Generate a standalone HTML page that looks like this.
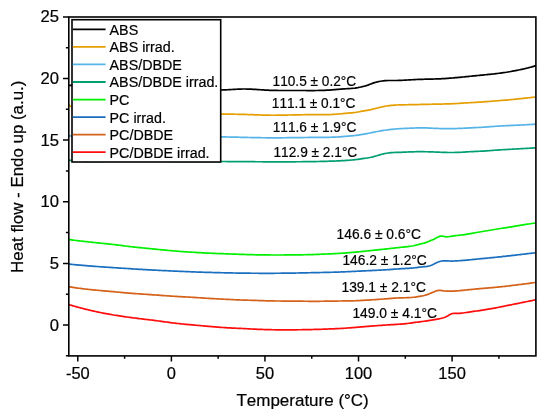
<!DOCTYPE html>
<html><head><meta charset="utf-8"><title>DSC</title>
<style>
html,body{margin:0;padding:0;background:#fff;}
body{width:550px;height:418px;overflow:hidden;}
svg{display:block;font-family:"Liberation Sans",sans-serif;}
text{stroke:#000;stroke-width:0.2px;font-kerning:none;font-feature-settings:"kern" 0;}
</style></head><body>
<svg width="550" height="418" viewBox="0 0 550 418">
<rect x="0" y="0" width="550" height="418" fill="#fff"/>
<g fill="none" stroke-width="1.7" stroke-linejoin="round" stroke-linecap="butt">
<path stroke="#000000" d="M68.5,85.30L70.0,85.34L71.5,85.38L73.0,85.44L74.5,85.51L76.0,85.58L77.5,85.66L79.0,85.75L80.5,85.85L82.0,85.95L83.5,86.06L85.0,86.17L86.5,86.28L88.0,86.39L89.5,86.51L91.0,86.63L92.5,86.74L94.0,86.86L95.5,86.97L97.0,87.09L98.5,87.20L100.0,87.30L101.5,87.40L103.0,87.50L104.5,87.59L106.0,87.67L107.5,87.75L109.0,87.83L110.5,87.90L112.0,87.97L113.5,88.04L115.0,88.10L116.5,88.16L118.0,88.22L119.5,88.27L121.0,88.32L122.5,88.37L124.0,88.41L125.5,88.45L127.0,88.49L128.5,88.53L130.0,88.56L131.5,88.60L133.0,88.63L134.5,88.66L136.0,88.69L137.5,88.71L139.0,88.74L140.5,88.76L142.0,88.79L143.5,88.81L145.0,88.83L146.5,88.85L148.0,88.87L149.5,88.89L151.0,88.91L152.5,88.93L154.0,88.96L155.5,88.98L157.0,89.00L158.5,89.02L160.0,89.04L161.5,89.06L163.0,89.08L164.5,89.11L166.0,89.13L167.5,89.15L169.0,89.17L170.5,89.20L172.0,89.22L173.5,89.25L175.0,89.27L176.5,89.30L178.0,89.32L179.5,89.35L181.0,89.38L182.5,89.41L184.0,89.44L185.5,89.47L187.0,89.50L188.5,89.53L190.0,89.56L191.5,89.59L193.0,89.63L194.5,89.66L196.0,89.70L197.5,89.74L199.0,89.77L200.5,89.81L202.0,89.85L203.5,89.89L205.0,89.93L206.5,89.97L208.0,90.00L209.5,90.03L211.0,90.06L212.5,90.08L214.0,90.09L215.5,90.09L217.0,90.09L218.5,90.08L220.0,90.05L221.5,90.01L223.0,89.97L224.5,89.91L226.0,89.84L227.5,89.76L229.0,89.68L230.5,89.59L232.0,89.50L233.5,89.41L235.0,89.32L236.5,89.24L238.0,89.17L239.5,89.11L241.0,89.06L242.5,89.02L244.0,89.00L245.5,89.00L247.0,89.03L248.5,89.07L250.0,89.12L251.5,89.20L253.0,89.28L254.5,89.37L256.0,89.47L257.5,89.57L259.0,89.67L260.5,89.77L262.0,89.87L263.5,89.96L265.0,90.05L266.5,90.14L268.0,90.21L269.5,90.28L271.0,90.34L272.5,90.38L274.0,90.42L275.5,90.45L277.0,90.47L278.5,90.48L280.0,90.49L281.5,90.50L283.0,90.50L284.5,90.50L286.0,90.51L287.5,90.50L289.0,90.50L290.5,90.50L292.0,90.50L293.5,90.50L295.0,90.50L296.5,90.50L298.0,90.50L299.5,90.50L301.0,90.50L302.5,90.51L304.0,90.52L305.5,90.52L307.0,90.53L308.5,90.53L310.0,90.54L311.5,90.54L313.0,90.53L314.5,90.53L316.0,90.51L317.5,90.49L319.0,90.47L320.5,90.43L322.0,90.39L323.5,90.34L325.0,90.28L326.5,90.21L328.0,90.13L329.5,90.03L331.0,89.93L332.5,89.81L334.0,89.68L335.5,89.55L337.0,89.42L338.5,89.29L340.0,89.16L341.5,89.04L343.0,88.93L344.5,88.83L346.0,88.75L347.5,88.67L349.0,88.60L350.5,88.51L352.0,88.40L353.5,88.26L355.0,88.07L356.5,87.84L358.0,87.58L359.5,87.28L361.0,86.96L362.5,86.62L364.0,86.26L365.5,85.88L367.0,85.44L368.5,84.91L370.0,84.31L371.5,83.71L373.0,83.15L374.5,82.67L376.0,82.25L377.5,81.88L379.0,81.54L380.5,81.25L382.0,81.01L383.5,80.82L385.0,80.67L386.5,80.57L388.0,80.52L389.5,80.49L391.0,80.49L392.5,80.49L394.0,80.50L395.5,80.50L397.0,80.48L398.5,80.45L400.0,80.40L401.5,80.34L403.0,80.27L404.5,80.19L406.0,80.10L407.5,80.01L409.0,79.92L410.5,79.83L412.0,79.74L413.5,79.66L415.0,79.58L416.5,79.51L418.0,79.44L419.5,79.38L421.0,79.33L422.5,79.28L424.0,79.24L425.5,79.20L427.0,79.17L428.5,79.14L430.0,79.11L431.5,79.08L433.0,79.04L434.5,79.01L436.0,78.97L437.5,78.92L439.0,78.86L440.5,78.79L442.0,78.72L443.5,78.63L445.0,78.54L446.5,78.44L448.0,78.33L449.5,78.22L451.0,78.10L452.5,77.98L454.0,77.85L455.5,77.71L457.0,77.58L458.5,77.44L460.0,77.29L461.5,77.15L463.0,77.00L464.5,76.85L466.0,76.70L467.5,76.55L469.0,76.40L470.5,76.25L472.0,76.10L473.5,75.95L475.0,75.80L476.5,75.65L478.0,75.50L479.5,75.35L481.0,75.20L482.5,75.05L484.0,74.90L485.5,74.75L487.0,74.60L488.5,74.45L490.0,74.30L491.5,74.14L493.0,73.98L494.5,73.81L496.0,73.64L497.5,73.47L499.0,73.28L500.5,73.09L502.0,72.89L503.5,72.69L505.0,72.47L506.5,72.24L508.0,72.00L509.5,71.75L511.0,71.49L512.5,71.21L514.0,70.93L515.5,70.64L517.0,70.34L518.5,70.03L520.0,69.71L521.5,69.39L523.0,69.07L524.5,68.73L526.0,68.38L527.5,68.02L529.0,67.65L530.5,67.25L532.0,66.83L533.5,66.39L535.0,65.93L536.0,65.60"/>
<path stroke="#E69F00" d="M68.5,104.70L70.0,105.85L71.5,106.79L73.0,107.55L74.5,108.15L76.0,108.62L77.5,109.00L79.0,109.32L80.5,109.59L82.0,109.84L83.5,110.08L85.0,110.29L86.5,110.50L88.0,110.68L89.5,110.85L91.0,111.01L92.5,111.15L94.0,111.28L95.5,111.40L97.0,111.50L98.5,111.60L100.0,111.69L101.5,111.77L103.0,111.84L104.5,111.90L106.0,111.95L107.5,112.00L109.0,112.05L110.5,112.09L112.0,112.13L113.5,112.16L115.0,112.20L116.5,112.23L118.0,112.26L119.5,112.29L121.0,112.32L122.5,112.36L124.0,112.39L125.5,112.43L127.0,112.46L128.5,112.50L130.0,112.54L131.5,112.58L133.0,112.62L134.5,112.66L136.0,112.70L137.5,112.75L139.0,112.79L140.5,112.83L142.0,112.87L143.5,112.92L145.0,112.96L146.5,113.00L148.0,113.05L149.5,113.09L151.0,113.13L152.5,113.17L154.0,113.21L155.5,113.25L157.0,113.29L158.5,113.33L160.0,113.37L161.5,113.41L163.0,113.45L164.5,113.48L166.0,113.52L167.5,113.55L169.0,113.58L170.5,113.61L172.0,113.64L173.5,113.67L175.0,113.69L176.5,113.72L178.0,113.74L179.5,113.76L181.0,113.78L182.5,113.80L184.0,113.82L185.5,113.84L187.0,113.85L188.5,113.87L190.0,113.88L191.5,113.90L193.0,113.91L194.5,113.92L196.0,113.94L197.5,113.95L199.0,113.96L200.5,113.97L202.0,113.98L203.5,113.99L205.0,114.00L206.5,114.01L208.0,114.02L209.5,114.02L211.0,114.03L212.5,114.04L214.0,114.05L215.5,114.06L217.0,114.07L218.5,114.08L220.0,114.09L221.5,114.10L223.0,114.11L224.5,114.12L226.0,114.13L227.5,114.14L229.0,114.16L230.5,114.17L232.0,114.19L233.5,114.21L235.0,114.23L236.5,114.25L238.0,114.28L239.5,114.31L241.0,114.34L242.5,114.37L244.0,114.41L245.5,114.45L247.0,114.50L248.5,114.55L250.0,114.60L251.5,114.66L253.0,114.72L254.5,114.78L256.0,114.84L257.5,114.89L259.0,114.95L260.5,115.00L262.0,115.05L263.5,115.10L265.0,115.14L266.5,115.17L268.0,115.20L269.5,115.22L271.0,115.23L272.5,115.24L274.0,115.24L275.5,115.23L277.0,115.22L278.5,115.20L280.0,115.18L281.5,115.16L283.0,115.14L284.5,115.11L286.0,115.08L287.5,115.05L289.0,115.02L290.5,114.99L292.0,114.96L293.5,114.93L295.0,114.90L296.5,114.87L298.0,114.84L299.5,114.81L301.0,114.78L302.5,114.75L304.0,114.73L305.5,114.70L307.0,114.68L308.5,114.66L310.0,114.64L311.5,114.63L313.0,114.62L314.5,114.61L316.0,114.60L317.5,114.60L319.0,114.60L320.5,114.60L322.0,114.61L323.5,114.61L325.0,114.61L326.5,114.60L328.0,114.58L329.5,114.55L331.0,114.50L332.5,114.44L334.0,114.36L335.5,114.26L337.0,114.15L338.5,114.01L340.0,113.87L341.5,113.73L343.0,113.58L344.5,113.44L346.0,113.32L347.5,113.20L349.0,113.09L350.5,112.96L352.0,112.82L353.5,112.66L355.0,112.47L356.5,112.24L358.0,112.00L359.5,111.74L361.0,111.46L362.5,111.19L364.0,110.92L365.5,110.65L367.0,110.38L368.5,110.10L370.0,109.80L371.5,109.48L373.0,109.13L374.5,108.76L376.0,108.37L377.5,107.97L379.0,107.58L380.5,107.21L382.0,106.87L383.5,106.55L385.0,106.28L386.5,106.03L388.0,105.81L389.5,105.61L391.0,105.45L392.5,105.30L394.0,105.18L395.5,105.08L397.0,105.00L398.5,104.93L400.0,104.88L401.5,104.84L403.0,104.80L404.5,104.78L406.0,104.75L407.5,104.73L409.0,104.71L410.5,104.69L412.0,104.67L413.5,104.64L415.0,104.61L416.5,104.57L418.0,104.54L419.5,104.50L421.0,104.47L422.5,104.43L424.0,104.40L425.5,104.37L427.0,104.33L428.5,104.30L430.0,104.27L431.5,104.24L433.0,104.21L434.5,104.19L436.0,104.16L437.5,104.13L439.0,104.10L440.5,104.07L442.0,104.04L443.5,104.01L445.0,103.97L446.5,103.93L448.0,103.89L449.5,103.84L451.0,103.78L452.5,103.72L454.0,103.65L455.5,103.57L457.0,103.49L458.5,103.40L460.0,103.31L461.5,103.21L463.0,103.12L464.5,103.02L466.0,102.92L467.5,102.83L469.0,102.74L470.5,102.65L472.0,102.57L473.5,102.48L475.0,102.40L476.5,102.31L478.0,102.22L479.5,102.13L481.0,102.04L482.5,101.93L484.0,101.83L485.5,101.72L487.0,101.60L488.5,101.48L490.0,101.35L491.5,101.23L493.0,101.10L494.5,100.98L496.0,100.86L497.5,100.74L499.0,100.62L500.5,100.51L502.0,100.39L503.5,100.27L505.0,100.15L506.5,100.03L508.0,99.90L509.5,99.77L511.0,99.63L512.5,99.48L514.0,99.33L515.5,99.18L517.0,99.03L518.5,98.87L520.0,98.71L521.5,98.55L523.0,98.38L524.5,98.22L526.0,98.06L527.5,97.89L529.0,97.73L530.5,97.57L532.0,97.41L533.5,97.25L535.0,97.10L536.0,97.00"/>
<path stroke="#56B4E9" d="M68.5,135.60L70.0,135.85L71.5,136.07L73.0,136.28L74.5,136.46L76.0,136.62L77.5,136.77L79.0,136.89L80.5,137.00L82.0,137.10L83.5,137.17L85.0,137.24L86.5,137.29L88.0,137.32L89.5,137.34L91.0,137.36L92.5,137.36L94.0,137.35L95.5,137.33L97.0,137.31L98.5,137.27L100.0,137.24L101.5,137.19L103.0,137.14L104.5,137.09L106.0,137.03L107.5,136.97L109.0,136.91L110.5,136.85L112.0,136.79L113.5,136.73L115.0,136.67L116.5,136.61L118.0,136.56L119.5,136.51L121.0,136.47L122.5,136.43L124.0,136.40L125.5,136.38L127.0,136.35L128.5,136.33L130.0,136.32L131.5,136.31L133.0,136.30L134.5,136.30L136.0,136.30L137.5,136.30L139.0,136.31L140.5,136.32L142.0,136.33L143.5,136.34L145.0,136.36L146.5,136.37L148.0,136.39L149.5,136.41L151.0,136.43L152.5,136.46L154.0,136.48L155.5,136.50L157.0,136.52L158.5,136.55L160.0,136.57L161.5,136.59L163.0,136.61L164.5,136.64L166.0,136.65L167.5,136.67L169.0,136.69L170.5,136.70L172.0,136.72L173.5,136.73L175.0,136.74L176.5,136.75L178.0,136.75L179.5,136.76L181.0,136.76L182.5,136.77L184.0,136.77L185.5,136.77L187.0,136.77L188.5,136.77L190.0,136.77L191.5,136.77L193.0,136.77L194.5,136.77L196.0,136.77L197.5,136.77L199.0,136.77L200.5,136.77L202.0,136.77L203.5,136.77L205.0,136.78L206.5,136.78L208.0,136.78L209.5,136.79L211.0,136.80L212.5,136.81L214.0,136.82L215.5,136.83L217.0,136.84L218.5,136.86L220.0,136.87L221.5,136.89L223.0,136.91L224.5,136.94L226.0,136.96L227.5,136.99L229.0,137.02L230.5,137.05L232.0,137.09L233.5,137.12L235.0,137.15L236.5,137.19L238.0,137.22L239.5,137.26L241.0,137.30L242.5,137.33L244.0,137.37L245.5,137.41L247.0,137.44L248.5,137.48L250.0,137.51L251.5,137.55L253.0,137.58L254.5,137.61L256.0,137.64L257.5,137.67L259.0,137.69L260.5,137.72L262.0,137.74L263.5,137.76L265.0,137.77L266.5,137.79L268.0,137.80L269.5,137.81L271.0,137.81L272.5,137.82L274.0,137.82L275.5,137.81L277.0,137.81L278.5,137.80L280.0,137.79L281.5,137.78L283.0,137.77L284.5,137.76L286.0,137.74L287.5,137.72L289.0,137.71L290.5,137.69L292.0,137.67L293.5,137.65L295.0,137.63L296.5,137.61L298.0,137.59L299.5,137.57L301.0,137.55L302.5,137.53L304.0,137.51L305.5,137.50L307.0,137.48L308.5,137.46L310.0,137.45L311.5,137.44L313.0,137.43L314.5,137.42L316.0,137.41L317.5,137.40L319.0,137.40L320.5,137.40L322.0,137.39L323.5,137.39L325.0,137.38L326.5,137.36L328.0,137.34L329.5,137.31L331.0,137.27L332.5,137.22L334.0,137.15L335.5,137.08L337.0,136.99L338.5,136.89L340.0,136.78L341.5,136.67L343.0,136.56L344.5,136.44L346.0,136.32L347.5,136.20L349.0,136.08L350.5,135.95L352.0,135.81L353.5,135.65L355.0,135.48L356.5,135.30L358.0,135.09L359.5,134.87L361.0,134.64L362.5,134.39L364.0,134.12L365.5,133.84L367.0,133.55L368.5,133.26L370.0,132.96L371.5,132.66L373.0,132.36L374.5,132.07L376.0,131.78L377.5,131.49L379.0,131.22L380.5,130.95L382.0,130.70L383.5,130.46L385.0,130.23L386.5,130.01L388.0,129.81L389.5,129.62L391.0,129.44L392.5,129.28L394.0,129.13L395.5,129.00L397.0,128.87L398.5,128.76L400.0,128.67L401.5,128.58L403.0,128.50L404.5,128.43L406.0,128.36L407.5,128.30L409.0,128.24L410.5,128.18L412.0,128.12L413.5,128.07L415.0,128.02L416.5,127.97L418.0,127.93L419.5,127.91L421.0,127.89L422.5,127.89L424.0,127.90L425.5,127.93L427.0,127.97L428.5,128.03L430.0,128.09L431.5,128.16L433.0,128.23L434.5,128.30L436.0,128.37L437.5,128.44L439.0,128.50L440.5,128.55L442.0,128.59L443.5,128.62L445.0,128.64L446.5,128.65L448.0,128.65L449.5,128.65L451.0,128.63L452.5,128.61L454.0,128.58L455.5,128.54L457.0,128.49L458.5,128.44L460.0,128.38L461.5,128.32L463.0,128.25L464.5,128.18L466.0,128.11L467.5,128.03L469.0,127.96L470.5,127.88L472.0,127.80L473.5,127.72L475.0,127.65L476.5,127.57L478.0,127.49L479.5,127.41L481.0,127.32L482.5,127.23L484.0,127.13L485.5,127.03L487.0,126.92L488.5,126.81L490.0,126.70L491.5,126.59L493.0,126.48L494.5,126.37L496.0,126.27L497.5,126.17L499.0,126.08L500.5,125.99L502.0,125.90L503.5,125.82L505.0,125.75L506.5,125.67L508.0,125.60L509.5,125.53L511.0,125.46L512.5,125.39L514.0,125.32L515.5,125.26L517.0,125.19L518.5,125.12L520.0,125.05L521.5,124.98L523.0,124.90L524.5,124.82L526.0,124.74L527.5,124.66L529.0,124.57L530.5,124.48L532.0,124.38L533.5,124.28L535.0,124.18L536.0,124.10"/>
<path stroke="#009E73" d="M68.5,160.10L70.0,160.29L71.5,160.45L73.0,160.61L74.5,160.75L76.0,160.87L77.5,160.98L79.0,161.08L80.5,161.16L82.0,161.23L83.5,161.29L85.0,161.34L86.5,161.38L88.0,161.41L89.5,161.43L91.0,161.44L92.5,161.45L94.0,161.45L95.5,161.44L97.0,161.42L98.5,161.40L100.0,161.38L101.5,161.35L103.0,161.31L104.5,161.28L106.0,161.24L107.5,161.20L109.0,161.16L110.5,161.12L112.0,161.08L113.5,161.04L115.0,161.01L116.5,160.97L118.0,160.94L119.5,160.91L121.0,160.88L122.5,160.86L124.0,160.84L125.5,160.83L127.0,160.82L128.5,160.81L130.0,160.81L131.5,160.81L133.0,160.81L134.5,160.82L136.0,160.82L137.5,160.83L139.0,160.85L140.5,160.86L142.0,160.88L143.5,160.89L145.0,160.91L146.5,160.93L148.0,160.96L149.5,160.98L151.0,161.00L152.5,161.03L154.0,161.05L155.5,161.08L157.0,161.10L158.5,161.13L160.0,161.15L161.5,161.18L163.0,161.20L164.5,161.22L166.0,161.25L167.5,161.27L169.0,161.29L170.5,161.31L172.0,161.32L173.5,161.34L175.0,161.35L176.5,161.37L178.0,161.38L179.5,161.39L181.0,161.40L182.5,161.41L184.0,161.42L185.5,161.43L187.0,161.43L188.5,161.44L190.0,161.44L191.5,161.45L193.0,161.45L194.5,161.45L196.0,161.46L197.5,161.46L199.0,161.46L200.5,161.46L202.0,161.46L203.5,161.47L205.0,161.47L206.5,161.47L208.0,161.47L209.5,161.47L211.0,161.47L212.5,161.48L214.0,161.48L215.5,161.48L217.0,161.48L218.5,161.49L220.0,161.49L221.5,161.50L223.0,161.50L224.5,161.51L226.0,161.52L227.5,161.53L229.0,161.53L230.5,161.54L232.0,161.55L233.5,161.56L235.0,161.57L236.5,161.58L238.0,161.59L239.5,161.61L241.0,161.62L242.5,161.63L244.0,161.64L245.5,161.65L247.0,161.66L248.5,161.68L250.0,161.69L251.5,161.70L253.0,161.71L254.5,161.72L256.0,161.73L257.5,161.74L259.0,161.75L260.5,161.76L262.0,161.77L263.5,161.78L265.0,161.79L266.5,161.79L268.0,161.80L269.5,161.81L271.0,161.81L272.5,161.82L274.0,161.82L275.5,161.82L277.0,161.82L278.5,161.83L280.0,161.83L281.5,161.83L283.0,161.82L284.5,161.82L286.0,161.82L287.5,161.81L289.0,161.81L290.5,161.80L292.0,161.80L293.5,161.79L295.0,161.78L296.5,161.77L298.0,161.76L299.5,161.75L301.0,161.73L302.5,161.72L304.0,161.70L305.5,161.69L307.0,161.67L308.5,161.65L310.0,161.63L311.5,161.61L313.0,161.58L314.5,161.56L316.0,161.54L317.5,161.51L319.0,161.48L320.5,161.45L322.0,161.42L323.5,161.39L325.0,161.35L326.5,161.31L328.0,161.27L329.5,161.22L331.0,161.17L332.5,161.12L334.0,161.06L335.5,161.00L337.0,160.93L338.5,160.86L340.0,160.78L341.5,160.70L343.0,160.62L344.5,160.53L346.0,160.44L347.5,160.34L349.0,160.24L350.5,160.13L352.0,160.00L353.5,159.85L355.0,159.69L356.5,159.50L358.0,159.31L359.5,159.10L361.0,158.89L362.5,158.67L364.0,158.46L365.5,158.24L367.0,158.02L368.5,157.77L370.0,157.50L371.5,157.19L373.0,156.83L374.5,156.42L376.0,155.99L377.5,155.54L379.0,155.09L380.5,154.65L382.0,154.24L383.5,153.87L385.0,153.53L386.5,153.24L388.0,153.00L389.5,152.80L391.0,152.66L392.5,152.56L394.0,152.50L395.5,152.46L397.0,152.42L398.5,152.39L400.0,152.34L401.5,152.28L403.0,152.22L404.5,152.15L406.0,152.08L407.5,152.01L409.0,151.94L410.5,151.88L412.0,151.83L413.5,151.78L415.0,151.74L416.5,151.71L418.0,151.69L419.5,151.68L421.0,151.68L422.5,151.68L424.0,151.70L425.5,151.73L427.0,151.76L428.5,151.80L430.0,151.85L431.5,151.90L433.0,151.96L434.5,152.02L436.0,152.08L437.5,152.14L439.0,152.20L440.5,152.26L442.0,152.31L443.5,152.36L445.0,152.41L446.5,152.45L448.0,152.48L449.5,152.50L451.0,152.51L452.5,152.50L454.0,152.49L455.5,152.46L457.0,152.42L458.5,152.37L460.0,152.30L461.5,152.23L463.0,152.14L464.5,152.05L466.0,151.95L467.5,151.85L469.0,151.76L470.5,151.67L472.0,151.60L473.5,151.53L475.0,151.46L476.5,151.40L478.0,151.34L479.5,151.27L481.0,151.20L482.5,151.13L484.0,151.04L485.5,150.95L487.0,150.84L488.5,150.73L490.0,150.62L491.5,150.50L493.0,150.39L494.5,150.27L496.0,150.16L497.5,150.06L499.0,149.95L500.5,149.85L502.0,149.76L503.5,149.66L505.0,149.57L506.5,149.49L508.0,149.40L509.5,149.32L511.0,149.23L512.5,149.15L514.0,149.07L515.5,148.99L517.0,148.91L518.5,148.83L520.0,148.75L521.5,148.67L523.0,148.59L524.5,148.51L526.0,148.42L527.5,148.34L529.0,148.25L530.5,148.16L532.0,148.07L533.5,147.97L535.0,147.87L536.0,147.80"/>
<path stroke="#00F000" d="M68.5,239.50L70.0,239.70L71.5,239.90L73.0,240.09L74.5,240.28L76.0,240.47L77.5,240.65L79.0,240.83L80.5,241.00L82.0,241.17L83.5,241.34L85.0,241.51L86.5,241.68L88.0,241.84L89.5,242.00L91.0,242.16L92.5,242.32L94.0,242.48L95.5,242.63L97.0,242.79L98.5,242.94L100.0,243.10L101.5,243.25L103.0,243.40L104.5,243.56L106.0,243.71L107.5,243.87L109.0,244.03L110.5,244.19L112.0,244.35L113.5,244.52L115.0,244.69L116.5,244.87L118.0,245.05L119.5,245.24L121.0,245.43L122.5,245.63L124.0,245.83L125.5,246.03L127.0,246.22L128.5,246.42L130.0,246.60L131.5,246.77L133.0,246.94L134.5,247.10L136.0,247.25L137.5,247.40L139.0,247.54L140.5,247.69L142.0,247.83L143.5,247.98L145.0,248.13L146.5,248.28L148.0,248.43L149.5,248.59L151.0,248.74L152.5,248.90L154.0,249.05L155.5,249.20L157.0,249.35L158.5,249.50L160.0,249.64L161.5,249.79L163.0,249.93L164.5,250.07L166.0,250.21L167.5,250.35L169.0,250.49L170.5,250.63L172.0,250.76L173.5,250.90L175.0,251.02L176.5,251.15L178.0,251.27L179.5,251.39L181.0,251.50L182.5,251.61L184.0,251.71L185.5,251.81L187.0,251.90L188.5,251.99L190.0,252.08L191.5,252.17L193.0,252.26L194.5,252.35L196.0,252.45L197.5,252.54L199.0,252.63L200.5,252.72L202.0,252.80L203.5,252.88L205.0,252.96L206.5,253.03L208.0,253.10L209.5,253.17L211.0,253.24L212.5,253.30L214.0,253.36L215.5,253.42L217.0,253.48L218.5,253.54L220.0,253.60L221.5,253.66L223.0,253.72L224.5,253.77L226.0,253.83L227.5,253.89L229.0,253.94L230.5,254.00L232.0,254.05L233.5,254.11L235.0,254.16L236.5,254.21L238.0,254.27L239.5,254.32L241.0,254.37L242.5,254.41L244.0,254.46L245.5,254.51L247.0,254.55L248.5,254.59L250.0,254.63L251.5,254.67L253.0,254.71L254.5,254.75L256.0,254.78L257.5,254.81L259.0,254.84L260.5,254.87L262.0,254.89L263.5,254.91L265.0,254.93L266.5,254.95L268.0,254.96L269.5,254.97L271.0,254.98L272.5,254.99L274.0,255.00L275.5,255.00L277.0,255.00L278.5,255.00L280.0,255.00L281.5,254.99L283.0,254.98L284.5,254.97L286.0,254.96L287.5,254.95L289.0,254.94L290.5,254.92L292.0,254.91L293.5,254.89L295.0,254.88L296.5,254.86L298.0,254.84L299.5,254.82L301.0,254.80L302.5,254.78L304.0,254.76L305.5,254.73L307.0,254.70L308.5,254.66L310.0,254.63L311.5,254.59L313.0,254.54L314.5,254.49L316.0,254.44L317.5,254.39L319.0,254.33L320.5,254.27L322.0,254.21L323.5,254.15L325.0,254.08L326.5,254.02L328.0,253.95L329.5,253.88L331.0,253.80L332.5,253.73L334.0,253.66L335.5,253.58L337.0,253.50L338.5,253.41L340.0,253.32L341.5,253.23L343.0,253.14L344.5,253.03L346.0,252.93L347.5,252.82L349.0,252.70L350.5,252.58L352.0,252.45L353.5,252.32L355.0,252.19L356.5,252.05L358.0,251.90L359.5,251.76L361.0,251.61L362.5,251.46L364.0,251.31L365.5,251.15L367.0,251.00L368.5,250.84L370.0,250.68L371.5,250.52L373.0,250.36L374.5,250.20L376.0,250.04L377.5,249.88L379.0,249.72L380.5,249.55L382.0,249.39L383.5,249.23L385.0,249.07L386.5,248.91L388.0,248.74L389.5,248.58L391.0,248.41L392.5,248.24L394.0,248.08L395.5,247.91L397.0,247.74L398.5,247.57L400.0,247.41L401.5,247.25L403.0,247.10L404.5,246.95L406.0,246.80L407.5,246.64L409.0,246.46L410.5,246.25L412.0,246.00L413.5,245.71L415.0,245.37L416.5,244.98L418.0,244.59L419.5,244.20L421.0,243.84L422.5,243.48L424.0,243.09L425.5,242.64L427.0,242.11L428.5,241.52L430.0,240.90L431.5,240.27L433.0,239.61L434.5,238.90L436.0,238.12L437.5,237.34L439.0,236.65L440.5,236.18L442.0,236.07L443.5,236.28L445.0,236.63L446.5,236.83L448.0,236.74L449.5,236.52L451.0,236.29L452.5,236.07L454.0,235.87L455.5,235.70L457.0,235.53L458.5,235.37L460.0,235.20L461.5,235.01L463.0,234.80L464.5,234.58L466.0,234.35L467.5,234.10L469.0,233.84L470.5,233.58L472.0,233.32L473.5,233.05L475.0,232.78L476.5,232.51L478.0,232.25L479.5,231.99L481.0,231.73L482.5,231.48L484.0,231.22L485.5,230.97L487.0,230.73L488.5,230.48L490.0,230.23L491.5,229.99L493.0,229.74L494.5,229.50L496.0,229.26L497.5,229.01L499.0,228.77L500.5,228.52L502.0,228.28L503.5,228.04L505.0,227.79L506.5,227.55L508.0,227.31L509.5,227.06L511.0,226.82L512.5,226.58L514.0,226.34L515.5,226.10L517.0,225.86L518.5,225.62L520.0,225.38L521.5,225.14L523.0,224.91L524.5,224.67L526.0,224.44L527.5,224.20L529.0,223.97L530.5,223.74L532.0,223.51L533.5,223.28L535.0,223.05L536.0,222.90"/>
<path stroke="#1A6FBF" d="M68.5,264.00L70.0,264.17L71.5,264.33L73.0,264.48L74.5,264.63L76.0,264.78L77.5,264.93L79.0,265.07L80.5,265.20L82.0,265.34L83.5,265.47L85.0,265.60L86.5,265.72L88.0,265.84L89.5,265.96L91.0,266.08L92.5,266.19L94.0,266.30L95.5,266.41L97.0,266.52L98.5,266.63L100.0,266.73L101.5,266.84L103.0,266.94L104.5,267.04L106.0,267.14L107.5,267.24L109.0,267.34L110.5,267.44L112.0,267.54L113.5,267.64L115.0,267.73L116.5,267.83L118.0,267.93L119.5,268.03L121.0,268.13L122.5,268.23L124.0,268.33L125.5,268.43L127.0,268.52L128.5,268.62L130.0,268.72L131.5,268.82L133.0,268.91L134.5,269.01L136.0,269.10L137.5,269.19L139.0,269.28L140.5,269.37L142.0,269.46L143.5,269.54L145.0,269.63L146.5,269.71L148.0,269.79L149.5,269.87L151.0,269.95L152.5,270.03L154.0,270.11L155.5,270.19L157.0,270.26L158.5,270.34L160.0,270.41L161.5,270.48L163.0,270.56L164.5,270.63L166.0,270.70L167.5,270.77L169.0,270.84L170.5,270.91L172.0,270.98L173.5,271.05L175.0,271.12L176.5,271.19L178.0,271.26L179.5,271.32L181.0,271.39L182.5,271.45L184.0,271.52L185.5,271.58L187.0,271.64L188.5,271.70L190.0,271.76L191.5,271.82L193.0,271.88L194.5,271.93L196.0,271.99L197.5,272.04L199.0,272.09L200.5,272.14L202.0,272.19L203.5,272.24L205.0,272.29L206.5,272.33L208.0,272.38L209.5,272.42L211.0,272.47L212.5,272.51L214.0,272.55L215.5,272.59L217.0,272.63L218.5,272.66L220.0,272.70L221.5,272.73L223.0,272.77L224.5,272.80L226.0,272.83L227.5,272.86L229.0,272.90L230.5,272.92L232.0,272.95L233.5,272.98L235.0,273.01L236.5,273.03L238.0,273.05L239.5,273.08L241.0,273.10L242.5,273.12L244.0,273.14L245.5,273.16L247.0,273.18L248.5,273.20L250.0,273.21L251.5,273.23L253.0,273.24L254.5,273.25L256.0,273.26L257.5,273.27L259.0,273.28L260.5,273.29L262.0,273.29L263.5,273.30L265.0,273.30L266.5,273.30L268.0,273.30L269.5,273.30L271.0,273.29L272.5,273.29L274.0,273.28L275.5,273.27L277.0,273.26L278.5,273.25L280.0,273.24L281.5,273.22L283.0,273.21L284.5,273.19L286.0,273.17L287.5,273.15L289.0,273.13L290.5,273.11L292.0,273.08L293.5,273.06L295.0,273.03L296.5,273.00L298.0,272.98L299.5,272.95L301.0,272.92L302.5,272.89L304.0,272.86L305.5,272.82L307.0,272.79L308.5,272.76L310.0,272.73L311.5,272.70L313.0,272.66L314.5,272.63L316.0,272.60L317.5,272.57L319.0,272.54L320.5,272.51L322.0,272.48L323.5,272.44L325.0,272.41L326.5,272.38L328.0,272.34L329.5,272.31L331.0,272.27L332.5,272.23L334.0,272.19L335.5,272.15L337.0,272.10L338.5,272.05L340.0,272.00L341.5,271.95L343.0,271.89L344.5,271.83L346.0,271.76L347.5,271.70L349.0,271.63L350.5,271.56L352.0,271.49L353.5,271.42L355.0,271.35L356.5,271.27L358.0,271.20L359.5,271.12L361.0,271.05L362.5,270.97L364.0,270.90L365.5,270.82L367.0,270.75L368.5,270.68L370.0,270.60L371.5,270.53L373.0,270.46L374.5,270.38L376.0,270.31L377.5,270.23L379.0,270.15L380.5,270.07L382.0,269.99L383.5,269.91L385.0,269.82L386.5,269.73L388.0,269.63L389.5,269.53L391.0,269.43L392.5,269.33L394.0,269.22L395.5,269.11L397.0,269.00L398.5,268.90L400.0,268.79L401.5,268.70L403.0,268.61L404.5,268.53L406.0,268.45L407.5,268.38L409.0,268.30L410.5,268.21L412.0,268.10L413.5,267.95L415.0,267.76L416.5,267.56L418.0,267.35L419.5,267.16L421.0,266.99L422.5,266.85L424.0,266.71L425.5,266.55L427.0,266.35L428.5,266.08L430.0,265.72L431.5,265.21L433.0,264.55L434.5,263.80L436.0,263.03L437.5,262.32L439.0,261.72L440.5,261.27L442.0,260.97L443.5,260.83L445.0,260.80L446.5,260.86L448.0,260.95L449.5,261.02L451.0,261.05L452.5,261.05L454.0,261.01L455.5,260.95L457.0,260.86L458.5,260.77L460.0,260.66L461.5,260.55L463.0,260.42L464.5,260.30L466.0,260.16L467.5,260.03L469.0,259.88L470.5,259.74L472.0,259.59L473.5,259.45L475.0,259.30L476.5,259.15L478.0,259.01L479.5,258.86L481.0,258.72L482.5,258.57L484.0,258.43L485.5,258.28L487.0,258.14L488.5,257.99L490.0,257.85L491.5,257.70L493.0,257.55L494.5,257.40L496.0,257.25L497.5,257.09L499.0,256.94L500.5,256.78L502.0,256.62L503.5,256.46L505.0,256.29L506.5,256.13L508.0,255.96L509.5,255.80L511.0,255.63L512.5,255.46L514.0,255.29L515.5,255.11L517.0,254.94L518.5,254.77L520.0,254.59L521.5,254.42L523.0,254.24L524.5,254.06L526.0,253.89L527.5,253.71L529.0,253.53L530.5,253.35L532.0,253.18L533.5,253.00L535.0,252.82L536.0,252.70"/>
<path stroke="#D5621A" d="M68.5,286.60L70.0,286.87L71.5,287.13L73.0,287.37L74.5,287.61L76.0,287.84L77.5,288.06L79.0,288.26L80.5,288.46L82.0,288.66L83.5,288.84L85.0,289.02L86.5,289.19L88.0,289.35L89.5,289.51L91.0,289.67L92.5,289.82L94.0,289.97L95.5,290.11L97.0,290.25L98.5,290.39L100.0,290.52L101.5,290.66L103.0,290.79L104.5,290.92L106.0,291.05L107.5,291.18L109.0,291.32L110.5,291.45L112.0,291.58L113.5,291.71L115.0,291.85L116.5,291.98L118.0,292.12L119.5,292.25L121.0,292.39L122.5,292.53L124.0,292.67L125.5,292.81L127.0,292.94L128.5,293.07L130.0,293.20L131.5,293.32L133.0,293.43L134.5,293.54L136.0,293.65L137.5,293.75L139.0,293.85L140.5,293.95L142.0,294.05L143.5,294.15L145.0,294.26L146.5,294.36L148.0,294.46L149.5,294.57L151.0,294.68L152.5,294.78L154.0,294.89L155.5,295.00L157.0,295.11L158.5,295.22L160.0,295.33L161.5,295.44L163.0,295.55L164.5,295.66L166.0,295.76L167.5,295.87L169.0,295.97L170.5,296.07L172.0,296.16L173.5,296.26L175.0,296.35L176.5,296.44L178.0,296.53L179.5,296.62L181.0,296.70L182.5,296.78L184.0,296.86L185.5,296.94L187.0,297.02L188.5,297.10L190.0,297.19L191.5,297.27L193.0,297.36L194.5,297.46L196.0,297.56L197.5,297.66L199.0,297.76L200.5,297.86L202.0,297.97L203.5,298.07L205.0,298.17L206.5,298.27L208.0,298.36L209.5,298.45L211.0,298.53L212.5,298.62L214.0,298.70L215.5,298.77L217.0,298.85L218.5,298.92L220.0,299.00L221.5,299.08L223.0,299.15L224.5,299.23L226.0,299.30L227.5,299.38L229.0,299.45L230.5,299.52L232.0,299.60L233.5,299.67L235.0,299.73L236.5,299.80L238.0,299.86L239.5,299.92L241.0,299.98L242.5,300.03L244.0,300.08L245.5,300.13L247.0,300.18L248.5,300.23L250.0,300.27L251.5,300.32L253.0,300.37L254.5,300.42L256.0,300.47L257.5,300.52L259.0,300.57L260.5,300.62L262.0,300.67L263.5,300.72L265.0,300.77L266.5,300.81L268.0,300.85L269.5,300.88L271.0,300.91L272.5,300.94L274.0,300.96L275.5,300.98L277.0,301.00L278.5,301.01L280.0,301.02L281.5,301.03L283.0,301.04L284.5,301.05L286.0,301.06L287.5,301.07L289.0,301.08L290.5,301.10L292.0,301.11L293.5,301.12L295.0,301.14L296.5,301.16L298.0,301.17L299.5,301.19L301.0,301.21L302.5,301.22L304.0,301.24L305.5,301.25L307.0,301.27L308.5,301.28L310.0,301.29L311.5,301.30L313.0,301.30L314.5,301.30L316.0,301.30L317.5,301.29L319.0,301.29L320.5,301.27L322.0,301.26L323.5,301.24L325.0,301.22L326.5,301.20L328.0,301.18L329.5,301.16L331.0,301.13L332.5,301.11L334.0,301.09L335.5,301.06L337.0,301.04L338.5,301.02L340.0,301.00L341.5,300.98L343.0,300.96L344.5,300.95L346.0,300.93L347.5,300.91L349.0,300.88L350.5,300.85L352.0,300.82L353.5,300.78L355.0,300.73L356.5,300.68L358.0,300.62L359.5,300.55L361.0,300.47L362.5,300.39L364.0,300.31L365.5,300.22L367.0,300.12L368.5,300.03L370.0,299.93L371.5,299.84L373.0,299.74L374.5,299.64L376.0,299.54L377.5,299.44L379.0,299.34L380.5,299.23L382.0,299.13L383.5,299.01L385.0,298.90L386.5,298.78L388.0,298.66L389.5,298.54L391.0,298.42L392.5,298.31L394.0,298.20L395.5,298.11L397.0,298.02L398.5,297.95L400.0,297.89L401.5,297.84L403.0,297.80L404.5,297.77L406.0,297.73L407.5,297.68L409.0,297.61L410.5,297.52L412.0,297.40L413.5,297.24L415.0,297.06L416.5,296.84L418.0,296.61L419.5,296.37L421.0,296.11L422.5,295.82L424.0,295.49L425.5,295.10L427.0,294.64L428.5,294.09L430.0,293.50L431.5,292.88L433.0,292.24L434.5,291.60L436.0,291.02L437.5,290.60L439.0,290.43L440.5,290.46L442.0,290.61L443.5,290.81L445.0,291.00L446.5,291.12L448.0,291.19L449.5,291.20L451.0,291.18L452.5,291.12L454.0,291.05L455.5,290.96L457.0,290.85L458.5,290.73L460.0,290.60L461.5,290.46L463.0,290.32L464.5,290.17L466.0,290.02L467.5,289.86L469.0,289.71L470.5,289.55L472.0,289.40L473.5,289.25L475.0,289.10L476.5,288.95L478.0,288.81L479.5,288.68L481.0,288.55L482.5,288.42L484.0,288.30L485.5,288.17L487.0,288.05L488.5,287.92L490.0,287.80L491.5,287.67L493.0,287.54L494.5,287.40L496.0,287.26L497.5,287.12L499.0,286.97L500.5,286.81L502.0,286.66L503.5,286.50L505.0,286.33L506.5,286.16L508.0,285.99L509.5,285.82L511.0,285.64L512.5,285.46L514.0,285.28L515.5,285.09L517.0,284.90L518.5,284.71L520.0,284.52L521.5,284.33L523.0,284.13L524.5,283.94L526.0,283.74L527.5,283.54L529.0,283.34L530.5,283.14L532.0,282.94L533.5,282.74L535.0,282.53L536.0,282.40"/>
<path stroke="#FF0D0D" d="M68.5,304.50L70.0,304.95L71.5,305.39L73.0,305.83L74.5,306.26L76.0,306.68L77.5,307.09L79.0,307.50L80.5,307.90L82.0,308.29L83.5,308.68L85.0,309.06L86.5,309.43L88.0,309.79L89.5,310.15L91.0,310.50L92.5,310.84L94.0,311.18L95.5,311.51L97.0,311.83L98.5,312.15L100.0,312.46L101.5,312.77L103.0,313.06L104.5,313.36L106.0,313.64L107.5,313.92L109.0,314.19L110.5,314.46L112.0,314.72L113.5,314.97L115.0,315.22L116.5,315.46L118.0,315.70L119.5,315.93L121.0,316.16L122.5,316.38L124.0,316.60L125.5,316.81L127.0,317.02L128.5,317.23L130.0,317.43L131.5,317.63L133.0,317.82L134.5,318.02L136.0,318.21L137.5,318.39L139.0,318.58L140.5,318.76L142.0,318.94L143.5,319.12L145.0,319.30L146.5,319.48L148.0,319.66L149.5,319.84L151.0,320.02L152.5,320.20L154.0,320.39L155.5,320.58L157.0,320.77L158.5,320.97L160.0,321.17L161.5,321.37L163.0,321.58L164.5,321.79L166.0,321.99L167.5,322.20L169.0,322.40L170.5,322.60L172.0,322.80L173.5,322.99L175.0,323.18L176.5,323.36L178.0,323.53L179.5,323.69L181.0,323.85L182.5,324.00L184.0,324.15L185.5,324.29L187.0,324.43L188.5,324.57L190.0,324.70L191.5,324.84L193.0,324.97L194.5,325.10L196.0,325.23L197.5,325.37L199.0,325.50L200.5,325.63L202.0,325.77L203.5,325.90L205.0,326.03L206.5,326.16L208.0,326.30L209.5,326.43L211.0,326.56L212.5,326.68L214.0,326.81L215.5,326.93L217.0,327.05L218.5,327.17L220.0,327.29L221.5,327.40L223.0,327.51L224.5,327.61L226.0,327.71L227.5,327.81L229.0,327.89L230.5,327.97L232.0,328.05L233.5,328.12L235.0,328.18L236.5,328.25L238.0,328.31L239.5,328.38L241.0,328.45L242.5,328.52L244.0,328.59L245.5,328.67L247.0,328.75L248.5,328.83L250.0,328.91L251.5,328.98L253.0,329.06L254.5,329.14L256.0,329.21L257.5,329.28L259.0,329.34L260.5,329.40L262.0,329.46L263.5,329.51L265.0,329.56L266.5,329.60L268.0,329.64L269.5,329.68L271.0,329.71L272.5,329.74L274.0,329.77L275.5,329.79L277.0,329.81L278.5,329.82L280.0,329.83L281.5,329.84L283.0,329.84L284.5,329.85L286.0,329.85L287.5,329.84L289.0,329.84L290.5,329.83L292.0,329.82L293.5,329.81L295.0,329.80L296.5,329.78L298.0,329.76L299.5,329.75L301.0,329.73L302.5,329.70L304.0,329.68L305.5,329.65L307.0,329.63L308.5,329.60L310.0,329.56L311.5,329.53L313.0,329.49L314.5,329.45L316.0,329.41L317.5,329.37L319.0,329.32L320.5,329.28L322.0,329.23L323.5,329.18L325.0,329.12L326.5,329.07L328.0,329.01L329.5,328.96L331.0,328.90L332.5,328.84L334.0,328.78L335.5,328.72L337.0,328.65L338.5,328.58L340.0,328.50L341.5,328.42L343.0,328.33L344.5,328.23L346.0,328.13L347.5,328.02L349.0,327.92L350.5,327.80L352.0,327.69L353.5,327.57L355.0,327.45L356.5,327.32L358.0,327.20L359.5,327.08L361.0,326.95L362.5,326.82L364.0,326.70L365.5,326.57L367.0,326.45L368.5,326.33L370.0,326.20L371.5,326.08L373.0,325.96L374.5,325.85L376.0,325.73L377.5,325.62L379.0,325.51L380.5,325.40L382.0,325.29L383.5,325.19L385.0,325.09L386.5,324.99L388.0,324.90L389.5,324.80L391.0,324.71L392.5,324.62L394.0,324.53L395.5,324.44L397.0,324.35L398.5,324.26L400.0,324.17L401.5,324.06L403.0,323.94L404.5,323.80L406.0,323.65L407.5,323.48L409.0,323.28L410.5,323.07L412.0,322.85L413.5,322.64L415.0,322.43L416.5,322.25L418.0,322.07L419.5,321.89L421.0,321.71L422.5,321.50L424.0,321.28L425.5,321.05L427.0,320.82L428.5,320.58L430.0,320.34L431.5,320.11L433.0,319.88L434.5,319.63L436.0,319.37L437.5,319.09L439.0,318.80L440.5,318.50L442.0,318.19L443.5,317.80L445.0,317.26L446.5,316.56L448.0,315.73L449.5,314.85L451.0,314.06L452.5,313.51L454.0,313.31L455.5,313.37L457.0,313.43L458.5,313.40L460.0,313.30L461.5,313.15L463.0,312.97L464.5,312.76L466.0,312.53L467.5,312.30L469.0,312.06L470.5,311.82L472.0,311.60L473.5,311.40L475.0,311.19L476.5,310.99L478.0,310.80L479.5,310.59L481.0,310.39L482.5,310.17L484.0,309.95L485.5,309.71L487.0,309.46L488.5,309.20L490.0,308.94L491.5,308.66L493.0,308.38L494.5,308.09L496.0,307.80L497.5,307.51L499.0,307.21L500.5,306.91L502.0,306.61L503.5,306.31L505.0,306.01L506.5,305.70L508.0,305.40L509.5,305.10L511.0,304.80L512.5,304.50L514.0,304.20L515.5,303.90L517.0,303.60L518.5,303.30L520.0,303.00L521.5,302.70L523.0,302.40L524.5,302.09L526.0,301.79L527.5,301.48L529.0,301.17L530.5,300.86L532.0,300.55L533.5,300.23L535.0,299.91L536.0,299.70"/>
</g>
<rect x="72.0" y="19.7" width="148.7" height="142.3" fill="#fff" stroke="#000" stroke-width="1.6"/>
<g font-size="14" fill="#000">
<line x1="72.8" y1="29.30" x2="105.6" y2="29.30" stroke="#000000" stroke-width="1.8"/>
<text x="109.6" y="34.80" textLength="28.59" lengthAdjust="spacingAndGlyphs">ABS</text>
<line x1="72.8" y1="46.86" x2="105.6" y2="46.86" stroke="#E69F00" stroke-width="1.8"/>
<text x="109.6" y="52.36" textLength="65.07" lengthAdjust="spacingAndGlyphs">ABS irrad.</text>
<line x1="72.8" y1="64.42" x2="105.6" y2="64.42" stroke="#56B4E9" stroke-width="1.8"/>
<text x="109.6" y="69.92" textLength="72.24" lengthAdjust="spacingAndGlyphs">ABS/DBDE</text>
<line x1="72.8" y1="81.98" x2="105.6" y2="81.98" stroke="#009E73" stroke-width="1.8"/>
<text x="109.6" y="87.48" textLength="108.73" lengthAdjust="spacingAndGlyphs">ABS/DBDE irrad.</text>
<line x1="72.8" y1="99.54" x2="105.6" y2="99.54" stroke="#00F000" stroke-width="1.8"/>
<text x="109.6" y="105.04" textLength="19.84" lengthAdjust="spacingAndGlyphs">PC</text>
<line x1="72.8" y1="117.10" x2="105.6" y2="117.10" stroke="#1A6FBF" stroke-width="1.8"/>
<text x="109.6" y="122.60" textLength="56.32" lengthAdjust="spacingAndGlyphs">PC irrad.</text>
<line x1="72.8" y1="134.66" x2="105.6" y2="134.66" stroke="#D5621A" stroke-width="1.8"/>
<text x="109.6" y="140.16" textLength="63.50" lengthAdjust="spacingAndGlyphs">PC/DBDE</text>
<line x1="72.8" y1="152.22" x2="105.6" y2="152.22" stroke="#FF0D0D" stroke-width="1.8"/>
<text x="109.6" y="157.72" textLength="99.98" lengthAdjust="spacingAndGlyphs">PC/DBDE irrad.</text>
</g>
<rect x="68.80" y="17.00" width="467.10" height="338.90" fill="none" stroke="#000" stroke-width="1.6"/>
<path fill="none" stroke="#000" stroke-width="1.5" d="M77.80,355.90V361.50 M171.38,355.90V361.50 M264.95,355.90V361.50 M358.52,355.90V361.50 M452.10,355.90V361.50 M124.59,355.90V358.70 M218.16,355.90V358.70 M311.74,355.90V358.70 M405.31,355.90V358.70 M498.89,355.90V358.70 M68.80,325.00H63.00 M68.80,263.38H63.00 M68.80,201.75H63.00 M68.80,140.12H63.00 M68.80,78.50H63.00 M68.80,16.88H63.00 M68.80,355.81H65.90 M68.80,294.19H65.90 M68.80,232.56H65.90 M68.80,170.94H65.90 M68.80,109.31H65.90 M68.80,47.69H65.90"/>
<g font-size="16" fill="#000">
<text x="77.80" y="379.0" text-anchor="middle" textLength="23.81" lengthAdjust="spacingAndGlyphs">-50</text>
<text x="171.38" y="379.0" text-anchor="middle" textLength="9.16" lengthAdjust="spacingAndGlyphs">0</text>
<text x="264.95" y="379.0" text-anchor="middle" textLength="18.33" lengthAdjust="spacingAndGlyphs">50</text>
<text x="358.52" y="379.0" text-anchor="middle" textLength="27.49" lengthAdjust="spacingAndGlyphs">100</text>
<text x="452.10" y="379.0" text-anchor="middle" textLength="27.49" lengthAdjust="spacingAndGlyphs">150</text>
<text x="59.0" y="330.50" text-anchor="end" textLength="9.25" lengthAdjust="spacingAndGlyphs">0</text>
<text x="59.0" y="268.88" text-anchor="end" textLength="9.25" lengthAdjust="spacingAndGlyphs">5</text>
<text x="59.0" y="207.25" text-anchor="end" textLength="18.50" lengthAdjust="spacingAndGlyphs">10</text>
<text x="59.0" y="145.62" text-anchor="end" textLength="18.50" lengthAdjust="spacingAndGlyphs">15</text>
<text x="59.0" y="84.00" text-anchor="end" textLength="18.50" lengthAdjust="spacingAndGlyphs">20</text>
<text x="59.0" y="22.38" text-anchor="end" textLength="18.50" lengthAdjust="spacingAndGlyphs">25</text>
</g>
<text x="302.6" y="405.9" font-size="16.4" text-anchor="middle" textLength="132.4" lengthAdjust="spacingAndGlyphs">Temperature (°C)</text>
<text transform="translate(22.9,176.8) rotate(-90)" font-size="16.2" text-anchor="middle" textLength="192.3" lengthAdjust="spacingAndGlyphs">Heat flow - Endo up (a.u.)</text>
<g font-size="14" fill="#000">
<text x="272.60" y="85.50" textLength="83.51" lengthAdjust="spacingAndGlyphs">110.5 ± 0.2°C</text>
<text x="271.80" y="107.70" textLength="83.58" lengthAdjust="spacingAndGlyphs">111.1 ± 0.1°C</text>
<text x="272.70" y="131.90" textLength="83.58" lengthAdjust="spacingAndGlyphs">111.6 ± 1.9°C</text>
<text x="273.50" y="156.90" textLength="83.76" lengthAdjust="spacingAndGlyphs">112.9 ± 2.1°C</text>
<text x="336.60" y="238.90" textLength="84.27" lengthAdjust="spacingAndGlyphs">146.6 ± 0.6°C</text>
<text x="342.40" y="264.70" textLength="84.44" lengthAdjust="spacingAndGlyphs">146.2 ± 1.2°C</text>
<text x="341.50" y="291.80" textLength="84.36" lengthAdjust="spacingAndGlyphs">139.1 ± 2.1°C</text>
<text x="352.40" y="318.40" textLength="84.61" lengthAdjust="spacingAndGlyphs">149.0 ± 4.1°C</text>
</g>
</svg>
</body></html>
